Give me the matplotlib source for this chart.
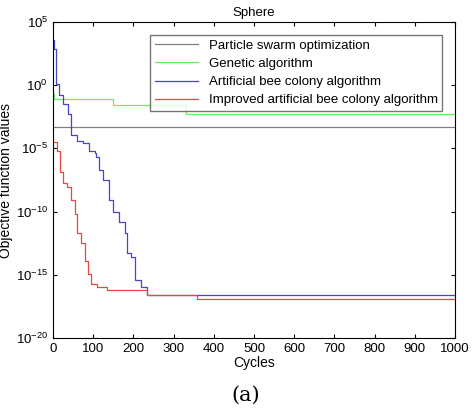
import matplotlib
matplotlib.use('Agg')
import matplotlib.pyplot as plt
import matplotlib.ticker as mticker
import numpy as np

plt.rcParams['font.family'] = ['Liberation Sans', 'DejaVu Sans']

# data (cycle, log10 value), step curves
pso_x = [0, 1000]
pso_y = [-3.3, -3.3]

ga_x = [0, 3, 150, 330, 1000]
ga_y = [-0.67, -1.07, -1.54, -2.25, -2.25]

abc_x = [0, 2, 8, 15, 25, 37, 45, 60, 75, 90, 105, 108, 115, 125, 140, 150,
         165, 178, 185, 195, 205, 220, 235, 1000]
abc_y = [3.55, 2.9, 0.1, -0.8, -1.5, -2.25, -3.97, -4.4, -4.6, -5.2, -5.4, -5.7,
         -6.7, -7.5, -9.1, -10.0, -10.8, -11.7, -13.3, -13.6, -15.4, -16.0,
         -16.6, -16.7]

iabc_x = [0, 10, 18, 25, 35, 45, 55, 60, 70, 80, 88, 95, 110, 135, 235, 358, 1000]
iabc_y = [-4.5, -5.2, -6.9, -7.7, -8.05, -9.1, -10.2, -11.7, -12.5, -13.9, -14.9,
          -15.7, -16.0, -16.2, -16.6, -16.9, -16.9]

series = [
    ('Particle swarm optimization', pso_x, pso_y, '#808080'),
    ('Genetic algorithm', ga_x, ga_y, '#66ee66'),
    ('Artificial bee colony algorithm', abc_x, abc_y, '#4444cc'),
    ('Improved artificial bee colony algorithm', iabc_x, iabc_y, '#ee4444'),
]

fig = plt.figure(figsize=(4.74, 4.09), dpi=100)
ax = fig.add_axes([53 / 474, 1 - 338 / 409, 402 / 474, 316 / 409])
for name, x, y, c in series:
    ax.step(x, 10.0 ** np.array(y), where='post', color=c, lw=0.9, label=name)

ax.set_yscale('log')
ax.set_ylim(1e-20, 1e5)
ax.set_xlim(0, 1000)
ax.set_xticks(range(0, 1001, 100))
ax.yaxis.set_major_locator(mticker.FixedLocator([10.0 ** k for k in range(-20, 6, 5)]))
ax.yaxis.set_minor_locator(mticker.NullLocator())
ax.tick_params(direction='in', top=True, right=True, labelsize=9.5, length=3)
ax.set_xlabel('Cycles', fontsize=10, labelpad=1)
ax.set_ylabel('Objective function values', fontsize=10, labelpad=2)
ax.set_title('Sphere', fontsize=9.5, pad=4)
leg = ax.legend(loc='upper right', fontsize=9.5, fancybox=False, edgecolor='#555555',
                handlelength=3.3, borderpad=0.35, labelspacing=0.45,
                bbox_to_anchor=(0.985, 0.98))
leg.get_frame().set_linewidth(1)

fig.text(0.518, 0.02, '(a)', fontsize=15, family='DejaVu Serif', ha='center')
fig.savefig('out.png', dpi=100)
